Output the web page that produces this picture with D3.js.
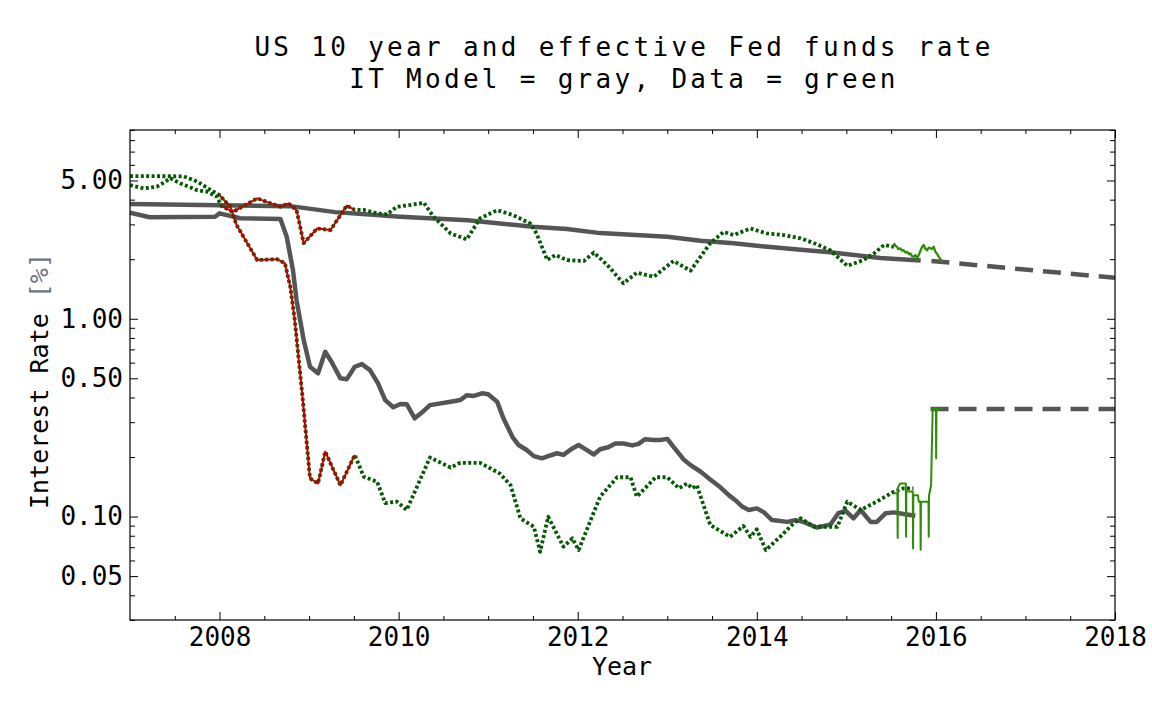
<!DOCTYPE html>
<html>
<head>
<meta charset="utf-8">
<script src="https://cdn.jsdelivr.net/npm/d3@7"></script>
<style>
  body { margin: 0; background: #fff; }
  svg { display: block; }
  text { font-family: "DejaVu Sans Mono", monospace; fill: #000; }
</style>
</head>
<body>
<svg id="chart" width="1152" height="711"></svg>
<script>
// model (gray) series, [year, percent]
const tenYearModel = [[2007.00,3.80],[2008.79,3.71],[2009.29,3.46],[2010.02,3.28],[2010.77,3.15],[2011.50,2.92],[2011.88,2.84],[2012.25,2.71],[2013.00,2.60],[2013.37,2.48],[2013.74,2.41],[2014.12,2.31],[2014.49,2.23],[2014.82,2.17],[2015.38,2.03],[2015.83,1.97]];
const tenYearForecast = [[2015.95,1.96],[2018.00,1.61]];

const fedFundsModel = [[2007.00,3.44],[2007.22,3.26],[2007.95,3.28],[2008.00,3.41],[2008.23,3.22],[2008.68,3.19],[2008.75,2.60],[2008.82,1.76],[2008.86,1.24],[2008.90,0.985],[2008.94,0.78],[2009.01,0.572],[2009.10,0.530],[2009.18,0.681],[2009.25,0.606],[2009.35,0.500],[2009.42,0.494],[2009.51,0.572],[2009.59,0.590],[2009.68,0.550],[2009.77,0.471],[2009.85,0.388],[2009.94,0.357],[2010.02,0.371],[2010.09,0.370],[2010.18,0.314],[2010.28,0.342],[2010.35,0.366],[2010.58,0.381],[2010.69,0.388],[2010.76,0.411],[2010.84,0.407],[2010.93,0.420],[2011.00,0.415],[2011.10,0.381],[2011.17,0.314],[2011.27,0.253],[2011.34,0.230],[2011.43,0.217],[2011.51,0.202],[2011.60,0.197],[2011.67,0.202],[2011.77,0.209],[2011.84,0.205],[2011.94,0.221],[2012.01,0.230],[2012.08,0.220],[2012.18,0.206],[2012.25,0.219],[2012.34,0.224],[2012.42,0.234],[2012.51,0.234],[2012.61,0.229],[2012.68,0.233],[2012.75,0.246],[2012.85,0.244],[2012.92,0.244],[2013.00,0.247],[2013.07,0.225],[2013.18,0.195],[2013.26,0.182],[2013.37,0.169],[2013.48,0.154],[2013.59,0.141],[2013.69,0.128],[2013.76,0.121],[2013.84,0.112],[2013.91,0.108],[2014.00,0.110],[2014.08,0.105],[2014.17,0.096],[2014.34,0.094],[2014.43,0.096],[2014.52,0.094],[2014.67,0.088],[2014.82,0.091],[2014.91,0.104],[2014.99,0.107],[2015.08,0.098],[2015.16,0.108],[2015.27,0.094],[2015.34,0.094],[2015.44,0.104],[2015.53,0.105],[2015.64,0.103],[2015.77,0.101]];
const fedFundsForecast = [[2015.94,0.35],[2018.00,0.35]];

// data (green) monthly series
const tenYearData = [[2007.00,4.74],[2007.15,4.56],[2007.30,4.65],[2007.41,4.99],[2007.45,5.13],[2007.56,4.84],[2007.75,4.47],[2007.86,4.39],[2007.97,4.14],[2008.02,3.72],[2008.15,3.47],[2008.42,4.06],[2008.68,3.68],[2008.77,3.83],[2008.86,3.54],[2008.94,2.41],[2009.09,2.86],[2009.24,2.81],[2009.42,3.73],[2009.51,3.55],[2009.61,3.55],[2009.76,3.41],[2009.87,3.37],[2009.98,3.68],[2010.13,3.76],[2010.28,3.86],[2010.39,3.28],[2010.58,2.70],[2010.76,2.52],[2010.91,3.22],[2011.10,3.54],[2011.28,3.34],[2011.47,3.03],[2011.54,2.70],[2011.66,1.98],[2011.75,2.10],[2011.88,1.98],[2012.07,1.96],[2012.18,2.16],[2012.33,1.87],[2012.51,1.51],[2012.66,1.71],[2012.85,1.63],[2013.07,1.96],[2013.26,1.75],[2013.48,2.41],[2013.63,2.75],[2013.74,2.65],[2013.93,2.86],[2014.11,2.70],[2014.30,2.65],[2014.49,2.55],[2014.64,2.41],[2014.82,2.22],[2015.01,1.85],[2015.19,1.98],[2015.31,2.14],[2015.42,2.36],[2015.53,2.31]];

const fedFundsData = [[2007.00,5.26],[2007.60,5.25],[2007.75,4.94],[2007.89,4.51],[2008.00,4.22],[2008.12,3.68],[2008.19,2.98],[2008.42,1.98],[2008.64,2.00],[2008.73,1.91],[2008.79,1.45],[2008.84,0.985],[2008.93,0.388],[2009.01,0.156],[2009.10,0.147],[2009.18,0.213],[2009.35,0.144],[2009.51,0.205],[2009.61,0.159],[2009.76,0.150],[2009.85,0.117],[2009.98,0.119],[2010.09,0.108],[2010.35,0.199],[2010.58,0.177],[2010.69,0.187],[2010.91,0.187],[2011.13,0.165],[2011.25,0.144],[2011.36,0.098],[2011.51,0.0888],[2011.58,0.0664],[2011.67,0.0998],[2011.84,0.0704],[2011.94,0.0776],[2012.01,0.0677],[2012.16,0.0998],[2012.25,0.126],[2012.44,0.158],[2012.59,0.158],[2012.66,0.126],[2012.87,0.158],[2013.00,0.158],[2013.13,0.139],[2013.22,0.147],[2013.28,0.139],[2013.33,0.144],[2013.48,0.0906],[2013.70,0.079],[2013.85,0.0895],[2013.93,0.079],[2014.00,0.0862],[2014.10,0.0677],[2014.26,0.079],[2014.41,0.0924],[2014.49,0.098],[2014.64,0.0888],[2014.90,0.0888],[2015.01,0.119],[2015.16,0.108],[2015.34,0.119],[2015.53,0.1335],[2015.64,0.139],[2015.75,0.139]];

// recent daily data (thin green)
const tenYearDaily = [[2015.53,2.41],[2015.55,2.33],[2015.566,2.31],[2015.58,2.25],[2015.603,2.27],[2015.62,2.21],[2015.64,2.22],[2015.66,2.16],[2015.678,2.18],[2015.70,2.12],[2015.715,2.14],[2015.734,2.07],[2015.752,2.06],[2015.771,2.10],[2015.79,2.02],[2015.808,2.10],[2015.83,2.22],[2015.846,2.31],[2015.864,2.36],[2015.88,2.26],[2015.902,2.22],[2015.92,2.29],[2015.939,2.27],[2015.955,2.25],[2015.976,2.31],[2015.994,2.18],[2016.01,2.14],[2016.031,2.06],[2016.05,2.00],[2016.069,1.94]];
const fedFundsDaily = [[2015.528,0.131],[2015.570,0.131],[2015.573,0.078],[2015.576,0.140],[2015.60,0.147],[2015.664,0.147],[2015.667,0.079],[2015.670,0.134],[2015.742,0.134],[2015.745,0.069],[2015.748,0.128],[2015.80,0.128],[2015.808,0.119],[2015.827,0.119],[2015.830,0.068],[2015.833,0.119],[2015.917,0.119],[2015.920,0.079],[2015.923,0.128],[2015.946,0.144],[2015.964,0.352],[2016.000,0.352],[2016.003,0.197],[2016.006,0.352],[2016.062,0.352]];

// period highlighted in red
const redPeriod = [2008.0, 2009.52];

const xMajorTicks = [2008, 2010, 2012, 2014, 2016, 2018];
const yLabelTicks = [0.05, 0.1, 0.5, 1, 5];

const svg = d3.select("#chart");
const margin = {left: 130, right: 37, top: 130, bottom: 91};
const W = 1152, H = 711;
const x = d3.scaleLinear().domain([2007, 2018]).range([margin.left, W - margin.right]);
const y = d3.scaleLog().domain([0.03, 9]).range([H - margin.bottom, margin.top]);

// title
const title = svg.append("g").attr("font-size", 26).attr("letter-spacing", 3.3).attr("text-anchor", "middle");
title.append("text").attr("x", 624).attr("y", 56).text("US 10 year and effective Fed funds rate");
title.append("text").attr("x", 624).attr("y", 88).text("IT Model = gray, Data = green");

// clip
svg.append("clipPath").attr("id", "clip").append("rect")
    .attr("x", margin.left).attr("y", margin.top)
    .attr("width", x.range()[1] - margin.left).attr("height", y.range()[0] - margin.top);

const line = d3.line().x(d => x(d[0])).y(d => y(d[1]));
const plot = svg.append("g").attr("clip-path", "url(#clip)");

function draw(data, stroke, width, dash) {
    plot.append("path").datum(data)
        .attr("d", line)
        .attr("fill", "none")
        .attr("stroke", stroke)
        .attr("stroke-width", width)
        .attr("stroke-linejoin", "round")
        .attr("stroke-dasharray", dash || null);
}

const gray = "#555555", dark = "#065a06", thin = "#2e8c06", red = "#c40000";
draw(tenYearModel, gray, 4.5);
draw(fedFundsModel, gray, 4.5);
draw(tenYearForecast, gray, 4.5, "18,10");
draw(fedFundsForecast, gray, 4.5, "18,10");
draw(tenYearData, dark, 3.8, "3,2.4");
draw(fedFundsData, dark, 3.8, "3,2.4");
const inRed = d => d[0] >= redPeriod[0] && d[0] <= redPeriod[1];
draw(tenYearData.filter(inRed), red, 2);
draw(fedFundsData.filter(inRed), red, 2);
draw(tenYearDaily, thin, 2.3);
draw(fedFundsDaily, thin, 2);

// axes
const minorX = d3.range(2007, 2018.01, 0.5).filter(v => !xMajorTicks.includes(v) && v > 2007);
const allY = [];
[0.01, 0.1, 1].forEach(b => d3.range(1, 10).forEach(k => { const v = +(b * k).toFixed(3); if (v >= 0.03 && v <= 9) allY.push(v); }));
const minorY = allY.filter(v => !yLabelTicks.includes(v));

function styleAxis(g) {
    g.select(".domain").remove();
    g.selectAll("line").attr("stroke", "#000").attr("stroke-width", 1);
    g.selectAll("text").attr("font-family", "DejaVu Sans Mono").attr("font-size", 26).attr("fill", "#000");
}

const bottomY = y.range()[0], topY = margin.top, leftX = margin.left, rightX = x.range()[1];
svg.append("g").attr("transform", `translate(0,${bottomY})`)
    .call(d3.axisBottom(x).tickValues(xMajorTicks).tickSize(-8).tickPadding(8).tickFormat(d3.format("d")))
    .call(styleAxis);
svg.append("g").attr("transform", `translate(0,${bottomY})`)
    .call(d3.axisBottom(x).tickValues(minorX).tickSize(-4).tickFormat(""))
    .call(styleAxis);
svg.append("g").attr("transform", `translate(0,${topY})`)
    .call(d3.axisTop(x).tickValues(xMajorTicks).tickSize(-8).tickFormat(""))
    .call(styleAxis);
svg.append("g").attr("transform", `translate(0,${topY})`)
    .call(d3.axisTop(x).tickValues(minorX).tickSize(-4).tickFormat(""))
    .call(styleAxis);

svg.append("g").attr("transform", `translate(${leftX},0)`)
    .call(d3.axisLeft(y).tickValues(yLabelTicks).tickSize(-8).tickPadding(7).tickFormat(d3.format(".2f")))
    .call(styleAxis);
svg.append("g").attr("transform", `translate(${leftX},0)`)
    .call(d3.axisLeft(y).tickValues(minorY).tickSize(-5).tickFormat(""))
    .call(styleAxis);
svg.append("g").attr("transform", `translate(${rightX},0)`)
    .call(d3.axisRight(y).tickValues(yLabelTicks).tickSize(-8).tickFormat(""))
    .call(styleAxis);
svg.append("g").attr("transform", `translate(${rightX},0)`)
    .call(d3.axisRight(y).tickValues(minorY).tickSize(-5).tickFormat(""))
    .call(styleAxis);

// frame
svg.append("rect")
    .attr("x", leftX).attr("y", topY)
    .attr("width", rightX - leftX).attr("height", bottomY - topY)
    .attr("fill", "none").attr("stroke", "#000").attr("stroke-width", 1.2);

// axis labels
svg.append("text").attr("x", 622).attr("y", 675).attr("text-anchor", "middle")
    .attr("font-size", 25).text("Year");
const yl = svg.append("text").attr("transform", "translate(48,381) rotate(-90)")
    .attr("text-anchor", "middle").attr("font-size", 25);
yl.append("tspan").text("Interest Rate ");
yl.append("tspan").attr("fill", "#6b7585").text("[%]");
</script>
</body>
</html>
